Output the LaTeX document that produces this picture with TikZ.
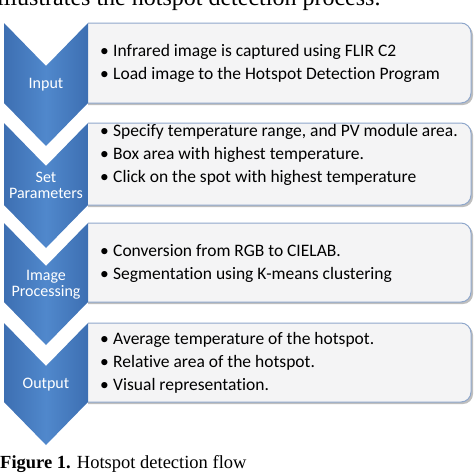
\documentclass[tikz,border=0pt]{standalone}
\usepackage{fontspec}
\setmainfont{Carlito}[Ligatures={NoCommon}]
\newfontfamily\capfont{Liberation Serif}
\definecolor{chevdark}{HTML}{3D6FB2}
\definecolor{chevlight}{HTML}{5088CC}
\definecolor{boxfill}{HTML}{F4F4F5}
\definecolor{boxline}{HTML}{8FA7CB}
\tikzset{
  chev/.style={left color=chevdark, right color=chevdark, middle color=chevlight},
  boxshape/.style={fill=boxfill, draw=boxline, line width=1pt, rounded corners=10pt},
  boxshadow/.style={fill=black!25, rounded corners=10pt},
  chevlabel/.style={text=white, font=\fontsize{16}{16}\selectfont, align=center, inner sep=0pt},
  bullets/.style={anchor=west, align=left, inner sep=0pt, font=\fontsize{17.5}{23}\selectfont}
}
\newcommand{\bl}{\makebox[13pt][l]{•}}
\begin{document}
\begin{tikzpicture}[x=1pt,y=-1pt]
\useasboundingbox (0,0) rectangle (474,472);
\clip (0,0) rectangle (474,472);
% top partial text
\node[anchor=base west, inner sep=0pt, font=\capfont\fontsize{24}{24}\selectfont] (toptext) at (-3,5) {illustrates the hotspot detection process.};
% boxes
\foreach \t/\h in {23/80,123/82,223/79,323/79}{
  \begin{scope}
    \clip (88,0) rectangle (480,472);
    \fill[boxshadow] (60,\t+2) rectangle (473,\t+\h+2);
    \path[boxshape] (60,\t) rectangle (471,\t+\h);
  \end{scope}
}
% chevrons
\foreach \t/\h in {23/80,123/82,223/79,323/79}{
  \shade[chev] (4,\t) -- (46,\t+43) -- (88,\t) -- (88,\t+\h) -- (46,\t+\h+43) -- (4,\t+\h) -- cycle;
}
% chevron labels
\node[chevlabel] (l1) at (46,85) {Input};
\node[chevlabel] (l2) at (46,185) {Set\\Parameters};
\node[chevlabel] (l3) at (46,285) {Image\\Processing};
\node[chevlabel] (l4) at (46,385) {Output};
% box texts
\node[bullets] (t1) at (100,63.5) {\bl Infrared image is captured using FLIR C2\\\bl Load image to the Hotspot Detection Program};
\node[bullets] (t2) at (100,155) {\bl Specify temperature range, and PV module area.\\\bl Box area with highest temperature.\\\bl Click on the spot with highest temperature};
\node[bullets] (t3) at (100,263.5) {\bl Conversion from RGB to CIELAB.\\\bl Segmentation using K-means clustering};
\node[bullets] (t4) at (100,363) {\bl Average temperature of the hotspot.\\\bl Relative area of the hotspot.\\\bl Visual representation.};
% caption
\node[anchor=base west, inner sep=0pt, font=\capfont\fontsize{18.5}{18.5}\selectfont] (cap) at (0,468) {\textbf{Figure 1.} Hotspot detection flow};
\end{tikzpicture}
\end{document}
